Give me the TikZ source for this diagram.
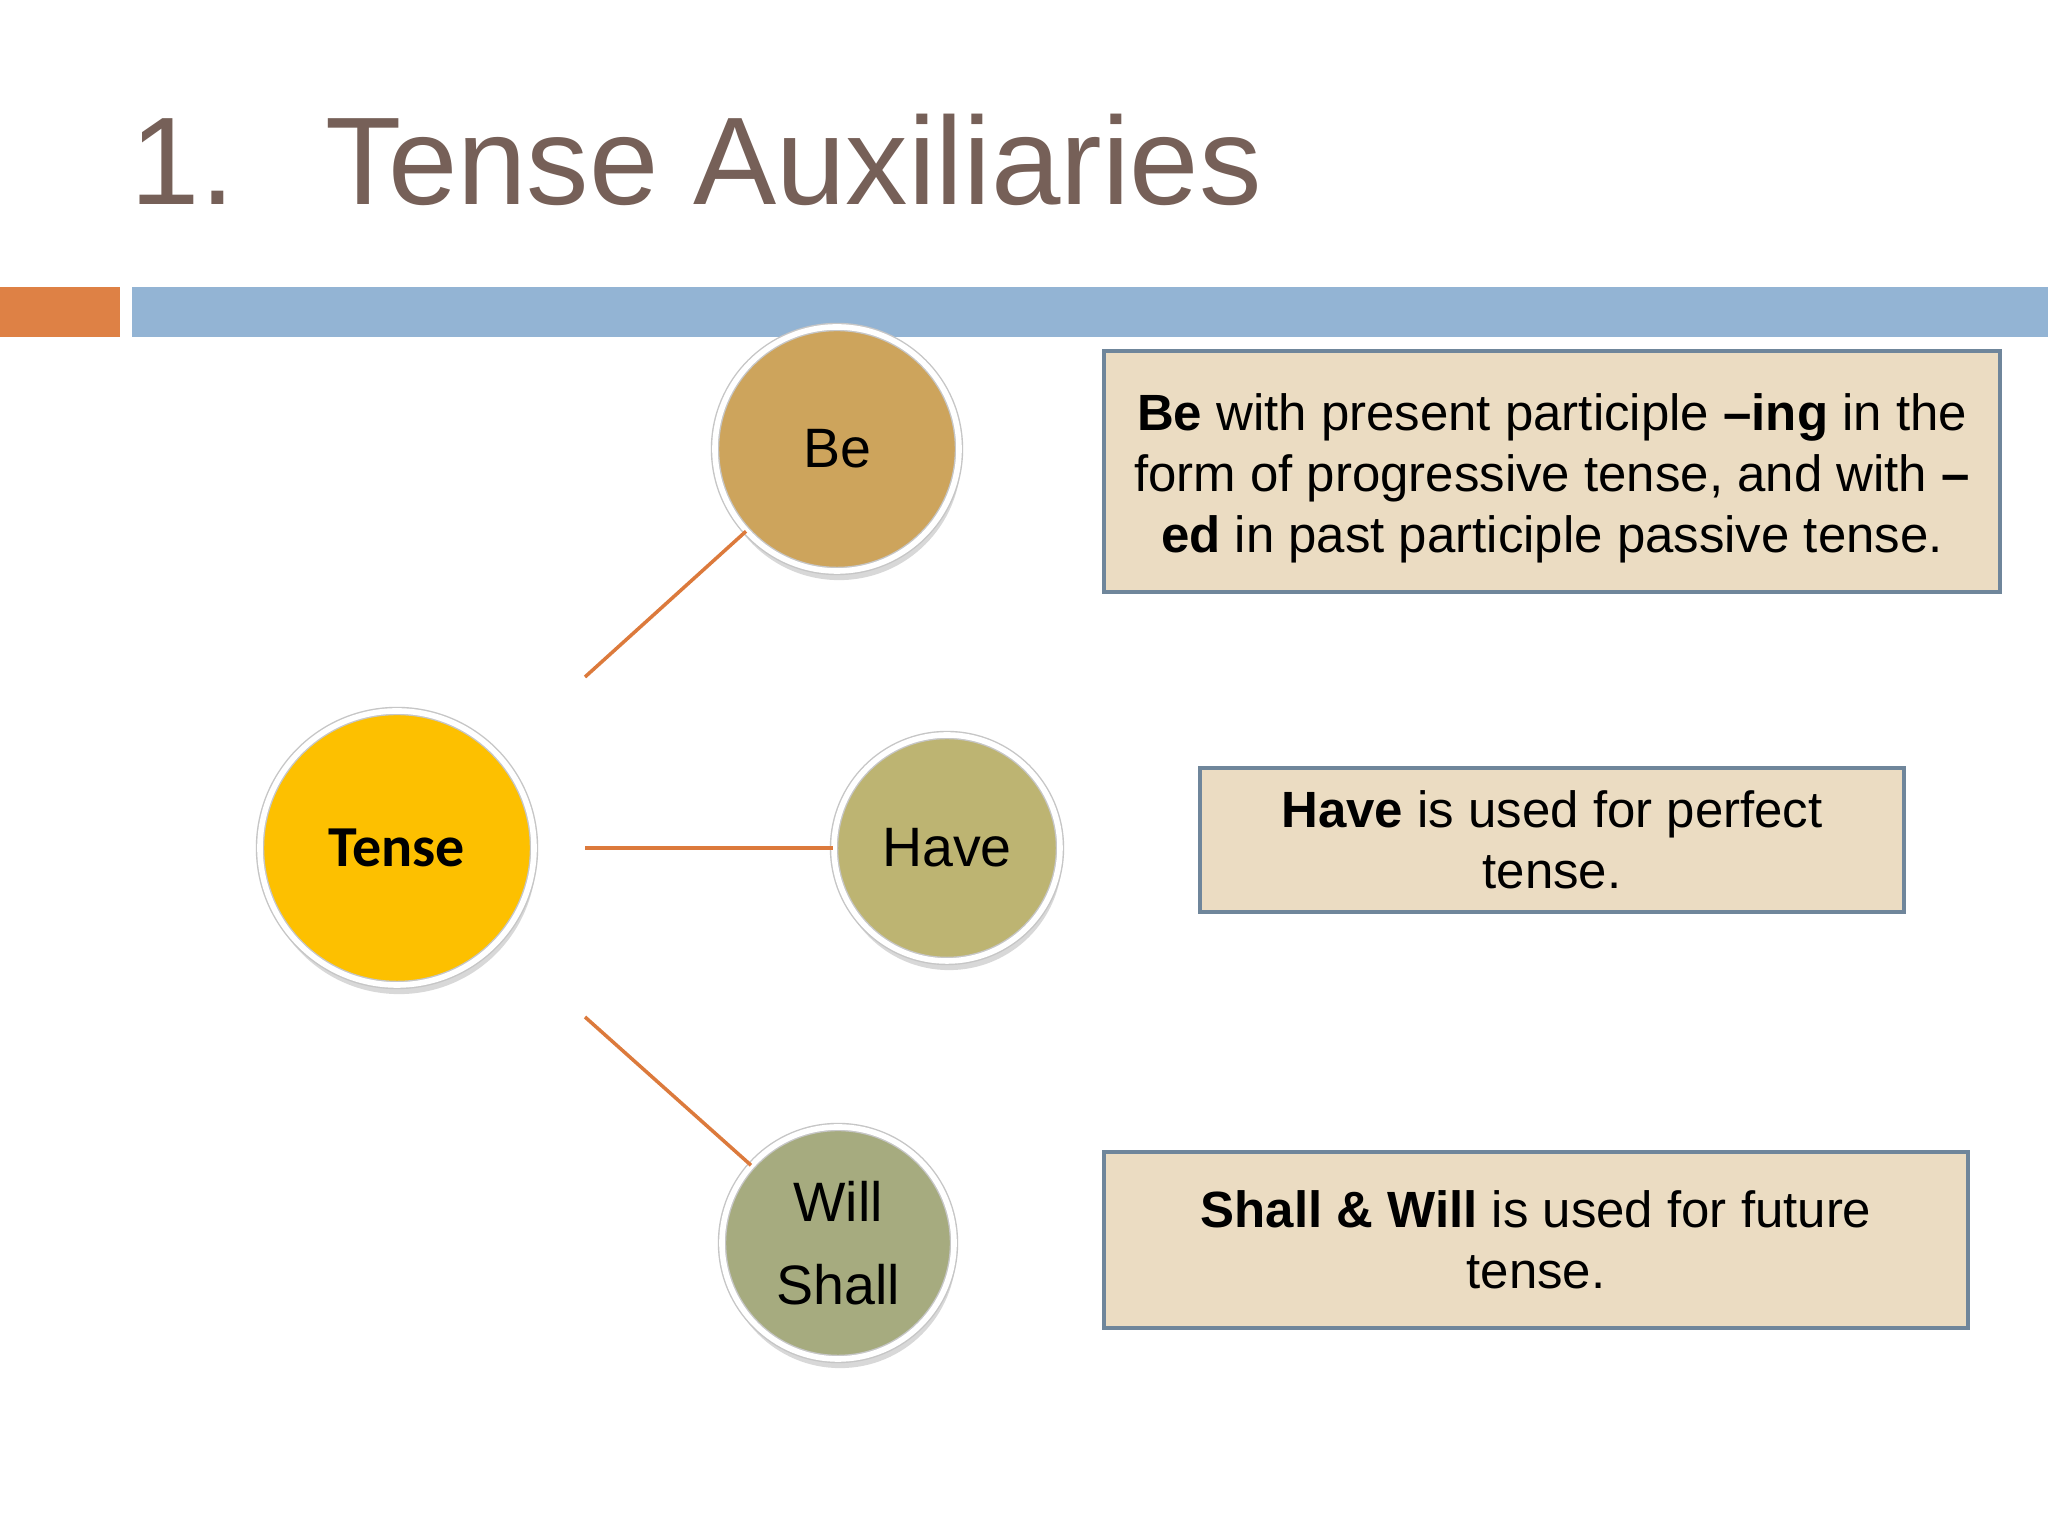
\documentclass[tikz,border=0pt]{standalone}
\usepackage{fontspec}
\setmainfont{Liberation Sans}
\newfontfamily\calibri{Carlito}
\usetikzlibrary{shadows}

\definecolor{titlebrown}{RGB}{118,96,88}
\definecolor{barorange}{RGB}{222,129,69}
\definecolor{barblue}{RGB}{147,180,212}
\definecolor{beochre}{RGB}{205,164,92}
\definecolor{tenseyellow}{RGB}{253,192,0}
\definecolor{haveolive}{RGB}{189,180,114}
\definecolor{willsage}{RGB}{166,171,127}
\definecolor{linkorange}{RGB}{220,122,60}
\definecolor{boxfill}{RGB}{235,220,194}
\definecolor{boxedge}{RGB}{111,134,155}

\begin{document}
\begin{tikzpicture}[
		bubble/.style={circle, draw=gray!45, double=white, double distance=1.6pt, line width=0.4pt,
			inner sep=0pt, align=center, font=\fontsize{15.8}{23.5}\selectfont,
			drop shadow={shadow xshift=0.6pt, shadow yshift=-2.6pt, opacity=0.3}},
		notebox/.style={draw=boxedge, line width=1.1pt, fill=boxfill, inner sep=0pt, align=center,
			font=\fontsize{14.5}{17.4}\selectfont},
		link/.style={linkorange, line width=1pt},
		heading/.style={anchor=base west, inner sep=0pt, text=titlebrown, font=\fontsize{35.5}{40}\selectfont}]
	
	\def\W{20.48}
	\def\H{15.36}
	
	\fill[white] (0,0) rectangle (\W,\H);
	\useasboundingbox (0,0) rectangle (\W,\H);
	
	% title and bars
	\node[heading] (num) at (1.30,13.31) {1.};
	\node[heading] (title) at (3.25,13.31) {Tense Auxiliaries};
	\fill[barorange] (0,12.49) rectangle (1.20,11.99);
	\fill[barblue] (1.32,12.49) rectangle (\W,11.99);
	
	% bubbles
	\node[bubble, fill=tenseyellow, minimum size=2.74cm, font=\calibri\bfseries\fontsize{16.5}{20}\selectfont] (tense) at (3.97,6.88) {Tense};
	\node[bubble, fill=beochre, minimum size=2.44cm] (be) at (8.37,10.87) {Be};
	\node[bubble, fill=haveolive, minimum size=2.26cm] (have) at (9.47,6.88) {Have};
	\node[bubble, fill=willsage, minimum size=2.32cm] (will) at (8.38,2.93) {Will\\Shall};
	
	% connectors
	\coordinate (c1) at (5.85,8.59);
	\coordinate (c2) at (5.85,6.88);
	\coordinate (c3) at (5.85,5.19);
	\foreach \c/\t in {c1/be, c2/have, c3/will}{
		\draw[link] (\c) -- (\t);
	}
	
	% notes
	\node[notebox, minimum width=8.96cm, minimum height=2.41cm] (benote) at (15.52,10.645)
	{\rule{0pt}{14.4pt}\textbf{Be} with present participle \textbf{–ing} in the\\
		form of progressive tense, and with \textbf{–}\\
		\textbf{ed} in past participle passive tense.};
	\node[notebox, minimum width=7.04cm, minimum height=1.44cm] (havenote) at (15.52,6.96)
	{\textbf{Have} is used for perfect\\tense.};
	\node[notebox, minimum width=8.64cm, minimum height=1.76cm] (willnote) at (15.36,2.96)
	{\textbf{Shall \& Will} is used for future\\tense.};
	
\end{tikzpicture}
\end{document}
